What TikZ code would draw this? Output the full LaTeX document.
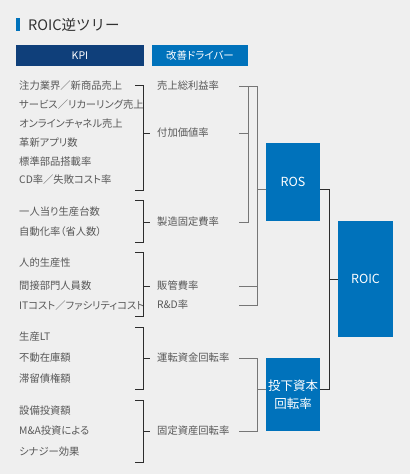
\documentclass[tikz,border=0pt]{standalone}
\usepackage{fontspec}
\setmainfont{Noto Sans CJK JP}[RawFeature=+palt]
\newfontfamily\titlefont{Noto Sans CJK JP}
\usetikzlibrary{positioning,calc}

\definecolor{bggray}{RGB}{239,239,239}
\definecolor{navy}{RGB}{15,63,122}
\definecolor{roicblue}{RGB}{0,114,187}
\definecolor{txtgray}{RGB}{88,88,88}
\definecolor{titlegray}{RGB}{50,50,50}
\definecolor{linegray}{RGB}{118,118,118}
\definecolor{linedark}{RGB}{45,45,45}

\begin{document}
\begin{tikzpicture}[x=1pt,y=-1pt,
  kpi/.style={anchor=west,inner sep=0pt,text=txtgray,font=\fontsize{10.3}{12}\selectfont},
  driver/.style={kpi},
  header/.style={text=white,inner sep=0pt,minimum height=21pt,font=\fontsize{10.5}{12}\selectfont},
  result/.style={fill=roicblue,text=white,inner sep=0pt,minimum width=54pt,align=center,font=\fontsize{12.5}{18}\selectfont},
  bracket/.style={draw=linedark,line width=0.9pt},
  treeline/.style={draw=linegray,line width=0.9pt},
  rootline/.style={draw=linedark,line width=0.9pt}]
\useasboundingbox[fill=bggray] (0,0) rectangle (410,474);
              %title
\fill[roicblue] (16,18) rectangle (20,31);
\node[anchor=west,inner sep=0pt,text=titlegray,font=\titlefont\fontsize{14.5}{16}\selectfont] (title) at (28,24.5) {ROIC逆ツリー};
              %column headers
\node[header,fill=navy,minimum width=128pt] (kpihead) at (80,55.5) {KPI};
\node[header,fill=roicblue,minimum width=96pt] (drvhead) at (200,55.5) {改善ドライバー};
              %KPI list
\foreach \y/\txt [count=\i] in {86/注力業界／新商品売上,105/サービス／リカーリング売上,124/オンラインチャネル売上,
  143/革新アプリ数,162/標準部品搭載率,180/CD率／失敗コスト率,212/一人当り生産台数,232/自動化率（省人数）,
  263/人的生産性,286/間接部門人員数,306/ITコスト／ファシリティコスト,337/生産LT,358/不動在庫額,379/滞留債権額,
  411/設備投資額,431/M\&A投資による,452/シナジー効果}{
\node[kpi] (k\i) at (19,\y) {\txt};
}
              %drivers
\node[driver] (d1) at (157,86) {売上総利益率};
\node[driver] (d2) at (157,133) {付加価値率};
\node[driver] (d3) at (157,222) {製造固定費率};
\node[driver] (d4) at (157,286) {販管費率};
\node[driver] (d5) at (157,305) {R\&D率};
\node[driver] (d6) at (157,358) {運転資金回転率};
\node[driver] (d7) at (157,431) {固定資産回転率};
              %result boxes
\node[result,minimum height=78pt] (ros) at (293,182) {ROS};
\node[result,minimum width=55pt,minimum height=116pt] (roic) at (365.5,279) {ROIC};
\node[result,minimum height=73pt] (ic) at (293,394.5) {投下資本\\回転率};
              %columns of the tree
\coordinate (bl) at (135,0);
\coordinate (bx) at (143,0);
\coordinate (rx) at (239,0);
\coordinate (colA) at (248,0);
\coordinate (colB) at (257,0);
              %KPI brackets
\foreach \first/\last/\up/\drv in {k1/k6/1/d2,k7/k8/12/d3,k9/k11/11/d4,k12/k14/10/d6,k15/k17/11/d7}{
\draw[bracket] ($(\first -| bl)+(0,-\up)$) -| ($(\last -| bx)+(0,10)$) -- ($(\last -| bl)+(0,10)$);
\draw[bracket] (\drv -| bx) -- ([xshift=-7pt]\drv.west);
}
              %driver tree
\draw[treeline] (d1 -| rx) -- (d1 -| colB) -- (d5 -| colB) -- (d5 -| rx);
\draw[treeline] (d1 -| colA) -- (d3 -| colA) -- (d3 -| rx);
\draw[treeline] (d2 -| rx) -- (d2 -| colA);
\draw[treeline] (d4 -| rx) -- (d4 -| colB);
\draw[treeline] ([yshift=-7pt]ros.west) -- ++(-9,0);
\draw[treeline] (d6 -| rx) -- (d6 -| colB) -- (d7 -| colB) -- (d7 -| rx);
\draw[treeline] ([yshift=5.5pt]ic.west) -- ++(-9,0);
              %join to ROIC
\draw[rootline] ([yshift=-7pt]ros.east) -- ++(9,0) |- ([yshift=5.5pt]ic.east);
\draw[rootline] (roic.west) -- ++(-9,0);
\end{tikzpicture}
\end{document}
